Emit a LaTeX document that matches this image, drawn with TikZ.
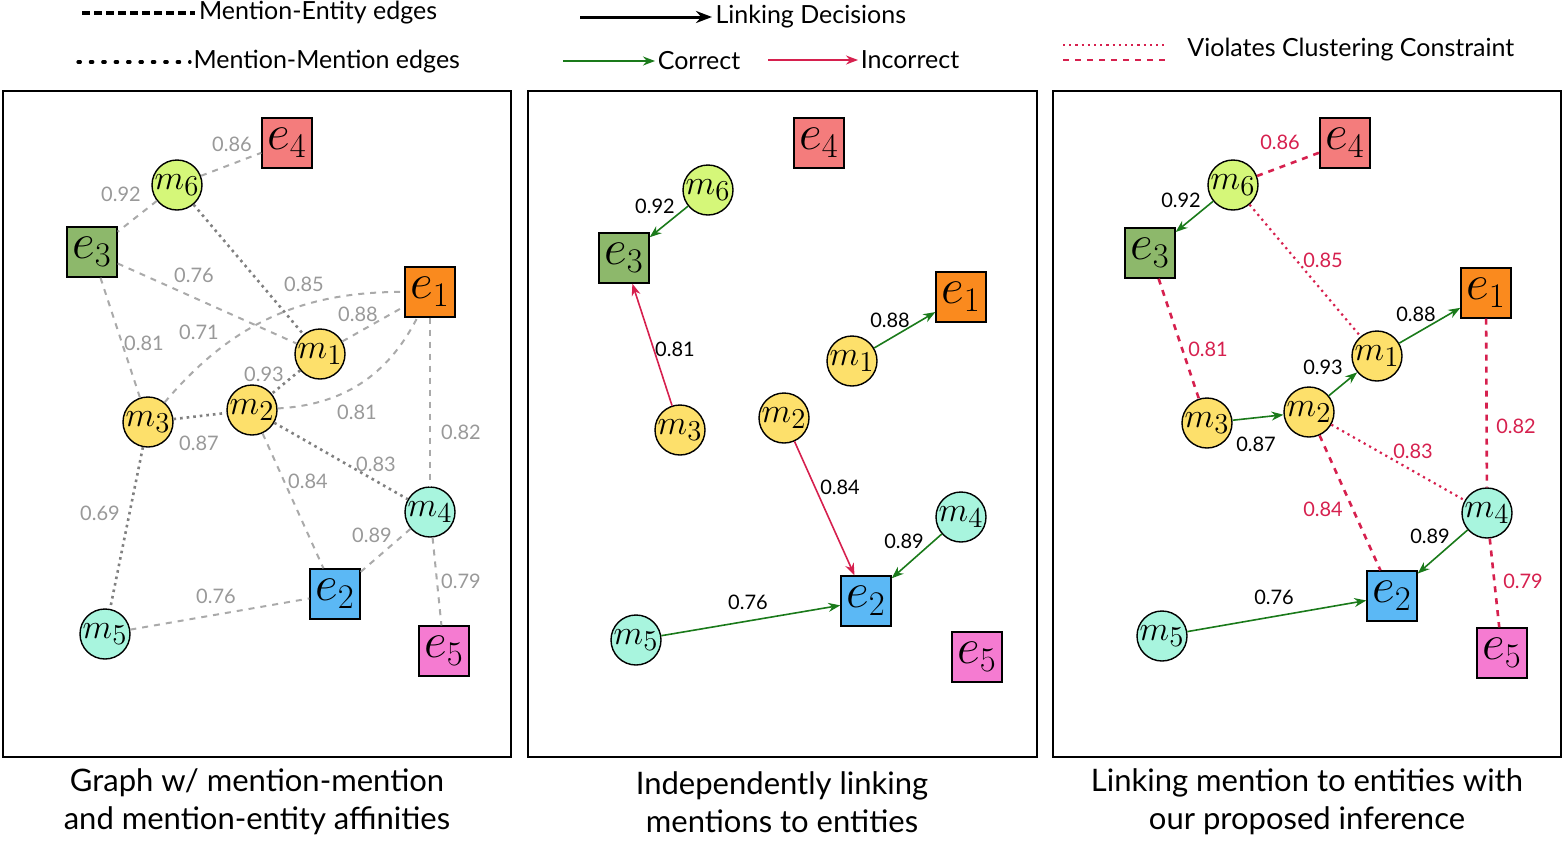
\documentclass[tikz,border=0pt]{standalone}
\usepackage{fontspec}
\setmainfont{Lato}
\usetikzlibrary{arrows.meta}
\definecolor{ce4}{HTML}{F47C7C}\definecolor{ce3}{HTML}{8DB86B}\definecolor{ce1}{HTML}{FA8A1E}
\definecolor{ce2}{HTML}{5BB8F5}\definecolor{ce5}{HTML}{F57BD1}\definecolor{cm6}{HTML}{D5F779}
\definecolor{cmy}{HTML}{FDE06B}\definecolor{cmc}{HTML}{A8F5DE}
\definecolor{cr}{HTML}{D6204E}\definecolor{cg}{HTML}{1A7A1A}\definecolor{cgray}{HTML}{AAAAAA}
\begin{document}
\begin{tikzpicture}[x=0.5pt,y=-0.5pt,
 ent/.style={draw,line width=0.7pt,minimum size=25pt,inner sep=0pt,font=\fontsize{23}{23}\selectfont},
 men/.style={draw,circle,line width=0.7pt,minimum size=25pt,inner sep=0pt,font=\fontsize{19}{19}\selectfont},
 lab/.style={font=\fontsize{10}{10}\selectfont},
 gl/.style={lab,text=gray!80},
 rl/.style={lab,text=cr},
 me/.style={cgray,dashed,line width=1pt},
 mm/.style={gray,dotted,line width=1.3pt},
 ok/.style={cg,line width=0.8pt,-{Stealth[length=6pt]}},
 bad/.style={cr,line width=0.8pt,-{Stealth[length=6pt]}},
 rde/.style={cr,dashed,line width=1.3pt},
 rdo/.style={cr,dotted,line width=1.1pt},
 captxt/.style={font=\fontsize{15.5}{19}\selectfont,align=center},
 leg/.style={font=\fontsize{12.5}{12.5}\selectfont,anchor=west,inner sep=1pt}]
\useasboundingbox (0,0) rectangle (1568,841);
% legend
\draw[dash pattern=on 4pt off 2pt,line width=2pt] (82,13) -- (195,13) node[leg]{Mention-Entity edges};
\draw[dash pattern=on 1.2pt off 5pt,line width=1.6pt,line cap=round] (78,62) -- (190,62) node[leg]{Mention-Mention edges};
\draw[line width=1.5pt,-{Stealth[length=8pt]}] (580,17) -- (712,17) node[leg]{Linking Decisions};
\draw[ok] (563,61) -- (655,61) node[leg,text=black]{Correct};
\draw[bad] (768,60) -- (858,60) node[leg,text=black]{Incorrect};
\draw[rdo] (1063,45) -- (1168,45);
\draw[rde] (1063,60) -- (1168,60);
\node[leg] (vl) at (1185,50) {Violates Clustering Constraint};
% panels
\foreach \a/\b in {3/511,528/1037,1053/1561} \draw[line width=0.8pt] (\a,91) rectangle (\b,757);
\node[captxt] at (257,802) {Graph w/ mention-mention\\and mention-entity affinities};
\node[captxt] at (782,802) {Independently linking\\mentions to entities};
\node[captxt] at (1307,802) {Linking mention to entities with\\our proposed inference};
% panel 1
\node[ent,fill=ce4] (e4) at (287,143) {$e_4$};
\node[men,fill=cm6] (m6) at (177,185) {$m_6$};
\node[ent,fill=ce3] (e3) at (92,252) {$e_3$};
\node[ent,fill=ce1] (e1) at (430,292) {$e_1$};
\node[men,fill=cmy] (m1) at (320,354) {$m_1$};
\node[men,fill=cmy] (m2) at (252,410) {$m_2$};
\node[men,fill=cmy] (m3) at (148,422) {$m_3$};
\node[men,fill=cmc] (m4) at (430,512) {$m_4$};
\node[ent,fill=ce2] (e2) at (335,594) {$e_2$};
\node[men,fill=cmc] (m5) at (105,634) {$m_5$};
\node[ent,fill=ce5] (e5) at (444,651) {$e_5$};
\draw[me] (m6)--(e4); \draw[me] (m6)--(e3); \draw[me] (e3)--(m1); \draw[me] (m1)--(e1);
\draw[me] (m3) to[bend left=25] (e1); \draw[me] (m2) to[bend right=30] (e1);
\draw[me] (e3)--(m3); \draw[me] (e1)--(m4); \draw[me] (m2)--(e2); \draw[me] (m4)--(e2);
\draw[me] (m4)--(e5); \draw[me] (m5)--(e2);
\draw[mm] (m6)--(m1); \draw[mm] (m1)--(m2); \draw[mm] (m3)--(m2); \draw[mm] (m2)--(m4); \draw[mm] (m3)--(m5);
\foreach \t/\x/\y in {0.86/232/144,0.92/121/194,0.76/194/275,0.85/304/284,0.88/358/314,0.71/199/332,0.81/144/343,0.93/264/374,0.81/357/412,0.87/199/443,0.82/461/432,0.84/308/481,0.83/376/464,0.69/100/513,0.89/372/535,0.79/461/581,0.76/216/596}
  \node[gl] at (\x,\y) {\t};
% panel 2
\node[ent,fill=ce4] (f4) at (819,143) {$e_4$};
\node[men,fill=cm6] (n6) at (708,190) {$m_6$};
\node[ent,fill=ce3] (f3) at (624,258) {$e_3$};
\node[ent,fill=ce1] (f1) at (961,297) {$e_1$};
\node[men,fill=cmy] (n1) at (852,361) {$m_1$};
\node[men,fill=cmy] (n2) at (784,418) {$m_2$};
\node[men,fill=cmy] (n3) at (680,430) {$m_3$};
\node[men,fill=cmc] (n4) at (961,517) {$m_4$};
\node[ent,fill=ce2] (f2) at (866,601) {$e_2$};
\node[men,fill=cmc] (n5) at (636,640) {$m_5$};
\node[ent,fill=ce5] (f5) at (977,657) {$e_5$};
\draw[ok] (n6)--(f3); \draw[bad] (n3)--(f3); \draw[ok] (n1)--(f1);
\draw[bad] (n2)--(f2); \draw[ok] (n4)--(f2); \draw[ok] (n5)--(f2);
\foreach \t/\x/\y in {0.92/655/206,0.81/675/349,0.88/890/320,0.84/840/487,0.89/904/541,0.76/748/602}
  \node[lab] at (\x,\y) {\t};
% panel 3
\node[ent,fill=ce4] (g4) at (1345,143) {$e_4$};
\node[men,fill=cm6] (p6) at (1233,185) {$m_6$};
\node[ent,fill=ce3] (g3) at (1150,253) {$e_3$};
\node[ent,fill=ce1] (g1) at (1486,293) {$e_1$};
\node[men,fill=cmy] (p1) at (1377,356) {$m_1$};
\node[men,fill=cmy] (p2) at (1309,412) {$m_2$};
\node[men,fill=cmy] (p3) at (1207,423) {$m_3$};
\node[men,fill=cmc] (p4) at (1487,513) {$m_4$};
\node[ent,fill=ce2] (g2) at (1392,596) {$e_2$};
\node[men,fill=cmc] (p5) at (1162,636) {$m_5$};
\node[ent,fill=ce5] (g5) at (1502,653) {$e_5$};
\draw[ok] (p6)--(g3); \draw[ok] (p3)--(p2); \draw[ok] (p2)--(p1); \draw[ok] (p1)--(g1);
\draw[ok] (p4)--(g2); \draw[ok] (p5)--(g2);
\draw[rde] (p6)--(g4); \draw[rde] (g3)--(p3); \draw[rde] (g1)--(p4); \draw[rde] (p2)--(g2); \draw[rde] (p4)--(g5);
\draw[rdo] (p6)--(p1); \draw[rdo] (p2)--(p4);
\foreach \t/\x/\y in {0.92/1181/200,0.87/1256/444,0.93/1323/367,0.88/1416/314,0.89/1430/536,0.76/1274/597}
  \node[lab] at (\x,\y) {\t};
\foreach \t/\x/\y in {0.86/1280/142,0.81/1208/349,0.82/1516/426,0.84/1323/509,0.79/1523/581,0.85/1323/260,0.83/1413/451}
  \node[rl] at (\x,\y) {\t};
\end{tikzpicture}
\end{document}
